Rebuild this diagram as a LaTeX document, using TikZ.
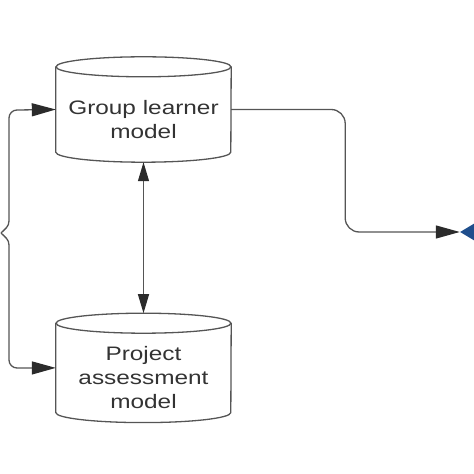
\documentclass[tikz,border=0pt]{standalone}
\usepackage{fontspec}
\newfontfamily\dbfont[FakeStretch=1.25]{Liberation Sans}
\usetikzlibrary{positioning, arrows.meta, shapes.geometric}
\definecolor{linegray}{HTML}{555555}
\definecolor{tipgray}{HTML}{2B2B2B}
\definecolor{textgray}{HTML}{333333}
\definecolor{linkblue}{HTML}{1F4E8C}

\begin{document}
\begin{tikzpicture}[x=1pt, y=1pt,
  dbline/.style={draw=linegray, line width=1.3pt},
  db/.style={rectangle, minimum width=175pt, inner sep=0pt, align=center, text=textgray,
    font=\dbfont\fontsize{19.5}{24}\selectfont},
  conn/.style={draw=linegray, line width=1.3pt, -{Triangle[length=24pt,width=13pt,color=tipgray]}},
  vconn/.style={draw=linegray, line width=1.3pt,
    {Triangle[length=19pt,width=11pt,color=tipgray]}-{Triangle[length=19pt,width=11pt,color=tipgray]}}]

\useasboundingbox (0,0) rectangle (474,474);
\clip (0,0) rectangle (474,474);

% Databases
\node[db, minimum height=85pt] at (143.5,354.5) (glm) {Group learner\\model};
\node[db, minimum height=89pt, below=171pt of glm] (pam) {Project\\assessment\\model};

% Cylinder outlines
\draw[dbline] ([yshift=10pt]glm.north) ellipse [x radius=87.5pt, y radius=10pt];
\draw[dbline] ([yshift=10pt]glm.north west) -- ([yshift=10pt]glm.south west)
  arc[start angle=180, end angle=360, x radius=87.5pt, y radius=10pt] -- ([yshift=10pt]glm.north east);
\draw[dbline] ([yshift=10pt]pam.north) ellipse [x radius=87.5pt, y radius=10pt];
\draw[dbline] ([yshift=10pt]pam.north west) -- ([yshift=10pt]pam.south west)
  arc[start angle=180, end angle=360, x radius=87.5pt, y radius=10pt] -- ([yshift=10pt]pam.north east);

% Outside element (cut off at the right)
\node[diamond, fill=linkblue, minimum width=30pt, minimum height=18pt, inner sep=0pt] at (475,242) (out) {};

% Incoming brace on the left
\coordinate (brace) at (1,241);

% Connections
\draw[conn] (brace) to[out=45,in=-90] (9,253) -- (9,356) to[out=90,in=180] (17,364) -- ([yshift=10pt]glm.west);
\draw[conn] (brace) to[out=-45,in=90] (9,229) -- (9,114) to[out=-90,in=180] (17,106) -- ([yshift=10pt]pam.west);
\draw[vconn] (glm.south) -- ([yshift=20pt]pam.north);
\draw[conn, rounded corners=14pt] ([yshift=10pt]glm.east) -- ++(114,0) |- (out.west);
\end{tikzpicture}
\end{document}
